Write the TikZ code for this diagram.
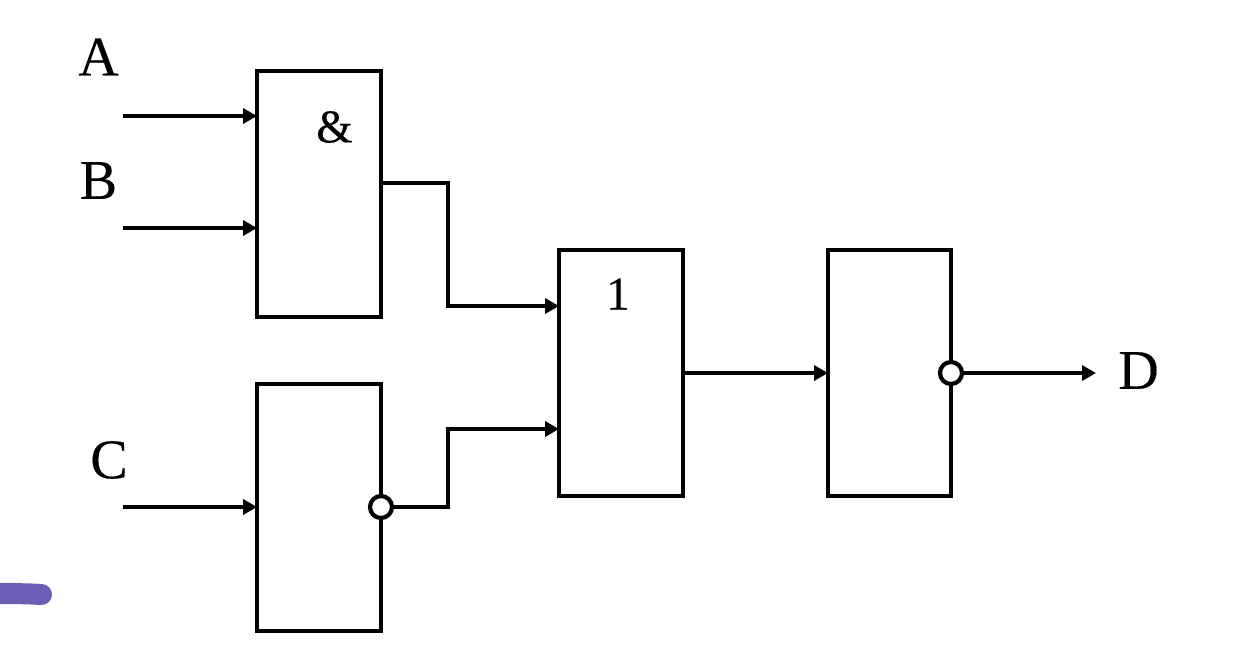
\documentclass[tikz,border=0pt]{standalone}
\usepackage{fontspec}
\setmainfont[FakeBold=0.25]{Liberation Serif}
\usetikzlibrary{arrows.meta}
\definecolor{penpurple}{HTML}{6A5FB5}
\tikzset{
  x=1pt,y=-1pt,
  gate/.style={draw=black,line width=4.2pt,fill=white,outer sep=0pt,inner sep=0pt,minimum width=124pt,minimum height=#1},
  gate/.default=246pt,
  bubble/.style={circle,draw=black,line width=4.2pt,fill=white,outer sep=0pt,inner sep=0pt,minimum size=22pt},
  wire/.style={line width=4.2pt,black},
  signal/.style={wire,-{Triangle[length=14pt,width=15pt]}},
  biglabel/.style={font=\fontsize{56}{60}\selectfont,inner sep=0pt},
  gatelabel/.style={font=\fontsize{47}{50}\selectfont,inner sep=0pt},
}
\begin{document}
\begin{tikzpicture}
\useasboundingbox[fill=white] (0,0) rectangle (1256,670);
\draw[penpurple,line width=21pt,line cap=round] (-20,593.5) .. controls (10,593.5) and (25,593.5) .. (41.5,594.5);
% gates
\node[gate] (g1) at (319,194) {};
\node[gate=247pt] (g2) at (319,507.5) {};
\node[gate] (g3) at (621,373) {};
\node[gate,minimum width=123pt] (g4) at (889.5,373) {};
% free ends and bends
\coordinate (ia) at (123,116);
\coordinate (ib) at (123,228);
\coordinate (ic) at (123,507);
\coordinate (od) at (1096,373);
\coordinate (o1) at (381,183);
\coordinate (i31) at (559,306);
\coordinate (i32) at (559,429);
\coordinate (b1a) at (448,183);
\coordinate (b1b) at (448,306);
\coordinate (b2a) at (448,507);
\coordinate (b2b) at (448,429);
% bubbles
\node[bubble] (n2) at (g2.east |- ic) {};
\node[bubble] (n4) at (g4.east) {};
% labels
\node[biglabel] (la) at (98.5,57) {A};
\node[biglabel] (lb) at (98.5,180.5) {B};
\node[biglabel] (lc) at (109,460) {C};
\node[biglabel] (ld) at (1138.5,370.5) {D};
\node[gatelabel] (amp) at (334.5,127) {\&};
\node[gatelabel] (one) at (618,294) {1};
% connectors
\draw[signal] (ia) -- (ia -| g1.west);
\draw[signal] (ib) -- (ib -| g1.west);
\draw[signal] (ic) -- (ic -| g2.west);
\draw[signal,line join=miter] (o1) -- (b1a) -- (b1b) -- (i31);
\draw[signal,line join=miter] (n2.east) -- (b2a) -- (b2b) -- (i32);
\draw[signal] (g3.east) -- (g4.west);
\draw[signal] (n4.east) -- (od);
\end{tikzpicture}
\end{document}
